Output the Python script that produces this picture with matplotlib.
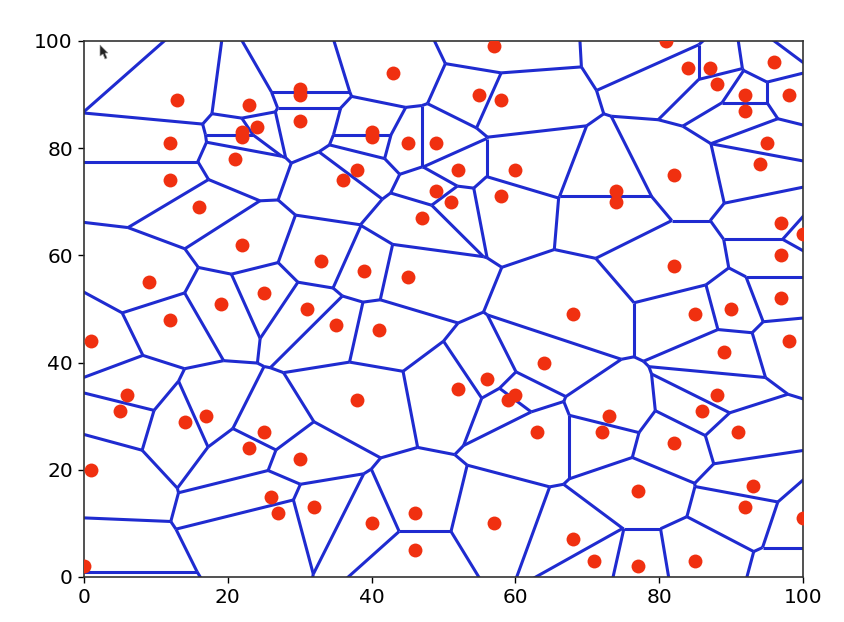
import numpy as np
import matplotlib
matplotlib.use("Agg")
import matplotlib.pyplot as plt
from matplotlib.tri import Triangulation
from matplotlib.collections import LineCollection
from matplotlib.patches import Polygon
from matplotlib.transforms import Affine2D

# Generator points
xs = [0, 1, 1, 6, 5, 9, 12, 12, 12, 13, 14, 17, 16, 19, 21, 22, 23, 22, 22, 23, 24, 25, 25, 26, 27,
      30, 30, 30, 30, 32, 33, 31, 35, 36, 38, 38, 39, 40, 40, 40, 41, 43, 45, 45, 46, 46, 47, 49, 49,
      51, 52, 52, 55, 56, 57, 57, 58, 58, 59, 60, 60, 63, 64, 68, 68, 71, 72, 73, 74, 74, 77, 77, 81,
      82, 82, 82, 84, 85, 85, 86, 87, 88, 88, 89, 90, 91, 92, 92, 92, 93, 94, 95, 96, 97, 97, 97, 98,
      98, 100, 100]
ys = [2, 20, 44, 34, 31, 55, 48, 74, 81, 89, 29, 30, 69, 51, 78, 62, 24, 82, 83, 88, 84, 53, 27, 15, 12,
      22, 85, 90, 91, 13, 59, 50, 47, 74, 76, 33, 57, 10, 82, 83, 46, 94, 56, 81, 12, 5, 67, 72, 81,
      70, 76, 35, 90, 37, 99, 10, 71, 89, 33, 34, 76, 27, 40, 49, 7, 3, 27, 30, 72, 70, 16, 2, 100,
      75, 58, 25, 95, 49, 3, 31, 95, 92, 34, 42, 50, 27, 90, 87, 13, 17, 77, 81, 96, 66, 60, 52, 44,
      90, 64, 11]
# Cell generators in the four corners that have no visible dot
hidden_x = [0, 0, 100, 100]
hidden_y = [0, 100, 0, 100]

xticks = [0, 20, 40, 60, 80, 100]
yticks = [0, 20, 40, 60, 80, 100]


def voronoi_segments(px, py):
    pts = np.column_stack([px, py]).astype(float)
    tri = Triangulation(pts[:, 0], pts[:, 1])
    t = tri.triangles
    a, b, c = pts[t[:, 0]], pts[t[:, 1]], pts[t[:, 2]]
    d = 2 * (a[:, 0] * (b[:, 1] - c[:, 1]) + b[:, 0] * (c[:, 1] - a[:, 1]) + c[:, 0] * (a[:, 1] - b[:, 1]))
    sa, sb, sc = (a ** 2).sum(1), (b ** 2).sum(1), (c ** 2).sum(1)
    cx = (sa * (b[:, 1] - c[:, 1]) + sb * (c[:, 1] - a[:, 1]) + sc * (a[:, 1] - b[:, 1])) / d
    cy = (sa * (c[:, 0] - b[:, 0]) + sb * (a[:, 0] - c[:, 0]) + sc * (b[:, 0] - a[:, 0])) / d
    cc = np.column_stack([cx, cy])
    segs = []
    centre = pts.mean(axis=0)
    for i, tr in enumerate(t):
        for j in range(3):
            nb = tri.neighbors[i, j]
            p, q = pts[tr[j]], pts[tr[(j + 1) % 3]]
            if nb > i:
                segs.append([cc[i], cc[nb]])
            elif nb == -1:
                e = q - p
                n = np.array([-e[1], e[0]]) / np.hypot(*e)
                mid = (p + q) / 2
                if np.dot(mid - centre, n) < 0:
                    n = -n
                segs.append([cc[i], cc[i] + n * 1000])
    return segs


fig = plt.figure(figsize=(8.45, 6.22), dpi=100)
ax = fig.add_axes([84 / 845, 1 - 577 / 622, 719 / 845, 536 / 622])

segments = voronoi_segments(xs + hidden_x, ys + hidden_y)
ax.add_collection(LineCollection(segments, colors="#1f2bd0", linewidths=2.2, zorder=2))
ax.scatter(xs, ys, s=100, color="#f03010", linewidths=0, zorder=3)

ax.set_xlim(0, 100)
ax.set_ylim(0, 100)
ax.set_xticks(xticks)
ax.set_yticks(yticks)
ax.tick_params(labelsize=14.5, length=4.5, width=1.0)
for s in ax.spines.values():
    s.set_linewidth(1.2)
    s.set_color("#333333")

# Screen-capture mouse pointer in the top-left of the plot (pixel coordinates, y downward)
to_pixels = Affine2D().scale(1, -1).translate(0, 622)
fig.add_artist(Polygon([(100, 45), (100, 56), (103, 54), (105, 59), (107, 58), (105, 53), (108, 53)],
                       closed=True, facecolor="#222222", edgecolor="#999999", linewidth=0.5,
                       transform=to_pixels))

fig.savefig("out.png", dpi=100)
